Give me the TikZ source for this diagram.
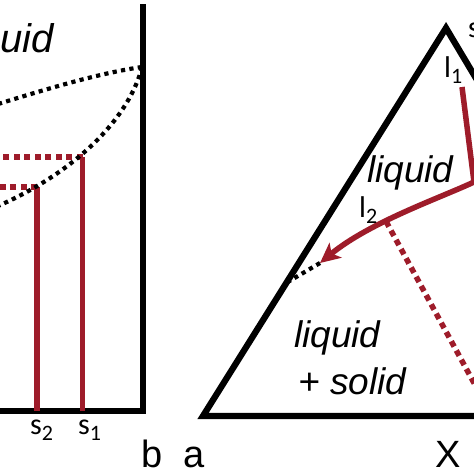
\documentclass[tikz,border=0pt]{standalone}
\usepackage{fontspec}
\setmainfont{Liberation Sans}
\newfontfamily\calfont{Carlito}
\usetikzlibrary{arrows.meta}
\definecolor{dred}{RGB}{158,28,42}
\begin{document}
\begin{tikzpicture}[x=1pt,y=-1pt,
  axis/.style={draw=black, line width=6.3pt, line join=miter},
  redsolid/.style={draw=dred, line width=5.5pt, line join=round},
  reddash/.style={draw=dred, line width=5.5pt, dash pattern=on 6pt off 4.5pt},
  blackdot/.style={draw=black, line width=4.2pt, dash pattern=on 4.2pt off 4.3pt},
  lbl/.style={inner sep=0pt, font=\fontsize{38}{38}\selectfont},
  itl/.style={inner sep=0pt, font=\fontsize{37}{37}\selectfont\itshape},
  sublbl/.style={inner sep=0pt, font=\fontsize{30}{30}\selectfont\calfont},
]
\clip (0,0) rectangle (474,474);
\fill[white] (0,0) rectangle (474,474);

% ---- left panel ----
\coordinate (Ltop) at (143,4);
\coordinate (Lcorner) at (143,411);
\coordinate (Lleft) at (-6,411);
\draw[axis] (Ltop) -- (Lcorner) -- (Lleft);

\coordinate (s1top) at (82.5,157);
\coordinate (s1bot) at (82.5,411);
\coordinate (s1left) at (-6,157);
\coordinate (s2top) at (37,187);
\coordinate (s2bot) at (37,411);
\coordinate (s2left) at (-6,187);
\draw[reddash] (s1top) -- (s1left);
\draw[reddash] (s2top) -- (s2left);
\draw[redsolid] (s1bot) -- (s1top);
\draw[redsolid] (s2bot) -- (s2top);

\coordinate (Ljoin) at (142,67);
\coordinate (Lupper) at (-2,104);
\coordinate (Llower) at (-2,206);
\draw[blackdot] (Lupper) .. controls (50,88) and (100,73) .. (Ljoin);
\draw[blackdot] (Ljoin) .. controls (130,115) and (80,170) .. (Llower);

\node[itl, font=\fontsize{40}{40}\selectfont\itshape, anchor=base east] (liqL) at (54,52) {liquid};
\node[sublbl, anchor=base west] (s2lab) at (30,434) {s\raisebox{-6pt}{\fontsize{22}{22}\selectfont 2}};
\node[sublbl, anchor=base west] (s1lab) at (78,434) {s\raisebox{-6pt}{\fontsize{22}{22}\selectfont 1}};
\node[lbl, anchor=base west] (blab) at (141,467) {b};
\node[lbl, anchor=base west] (alab) at (183,467) {a};

% ---- right panel ----
\coordinate (Tapex) at (446,28);
\coordinate (Tleft) at (203,416);
\coordinate (Tright) at (480,416);
\coordinate (Tedge) at (480,85);
\draw[axis] (Tedge) -- (Tapex) -- (Tleft) -- (Tright);

\coordinate (l1start) at (462,87);
\coordinate (bend) at (474,182);
\coordinate (tip) at (320,263);
\coordinate (dotend) at (286,283);
\coordinate (dashend) at (480,394);
\draw[redsolid, -{Stealth[length=20pt,width=19pt,inset=5pt]}]
  (l1start) -- (bend) .. controls (440,198) and (370,222) .. (tip)
  coordinate[pos=0.6] (branch);
\draw[reddash] (branch) -- (dashend);
\draw[blackdot] (tip) -- (dotend);

\node[sublbl, anchor=base west] (l1lab) at (444,77) {l\raisebox{-6pt}{\fontsize{22}{22}\selectfont 1}};
\node[sublbl, anchor=base west] (l2lab) at (359,217) {l\raisebox{-6pt}{\fontsize{22}{22}\selectfont 2}};
\node[sublbl, anchor=base west] (slab) at (468,37) {s};
\node[itl, anchor=base west] (liqR) at (367,182) {liquid};
\node[itl, anchor=base west] (liqS1) at (294,347) {liquid};
\node[itl, anchor=base west] (liqS2) at (298,394) {+ solid};
\node[lbl, anchor=base] (xlab) at (448,467) {X};
\end{tikzpicture}
\end{document}
